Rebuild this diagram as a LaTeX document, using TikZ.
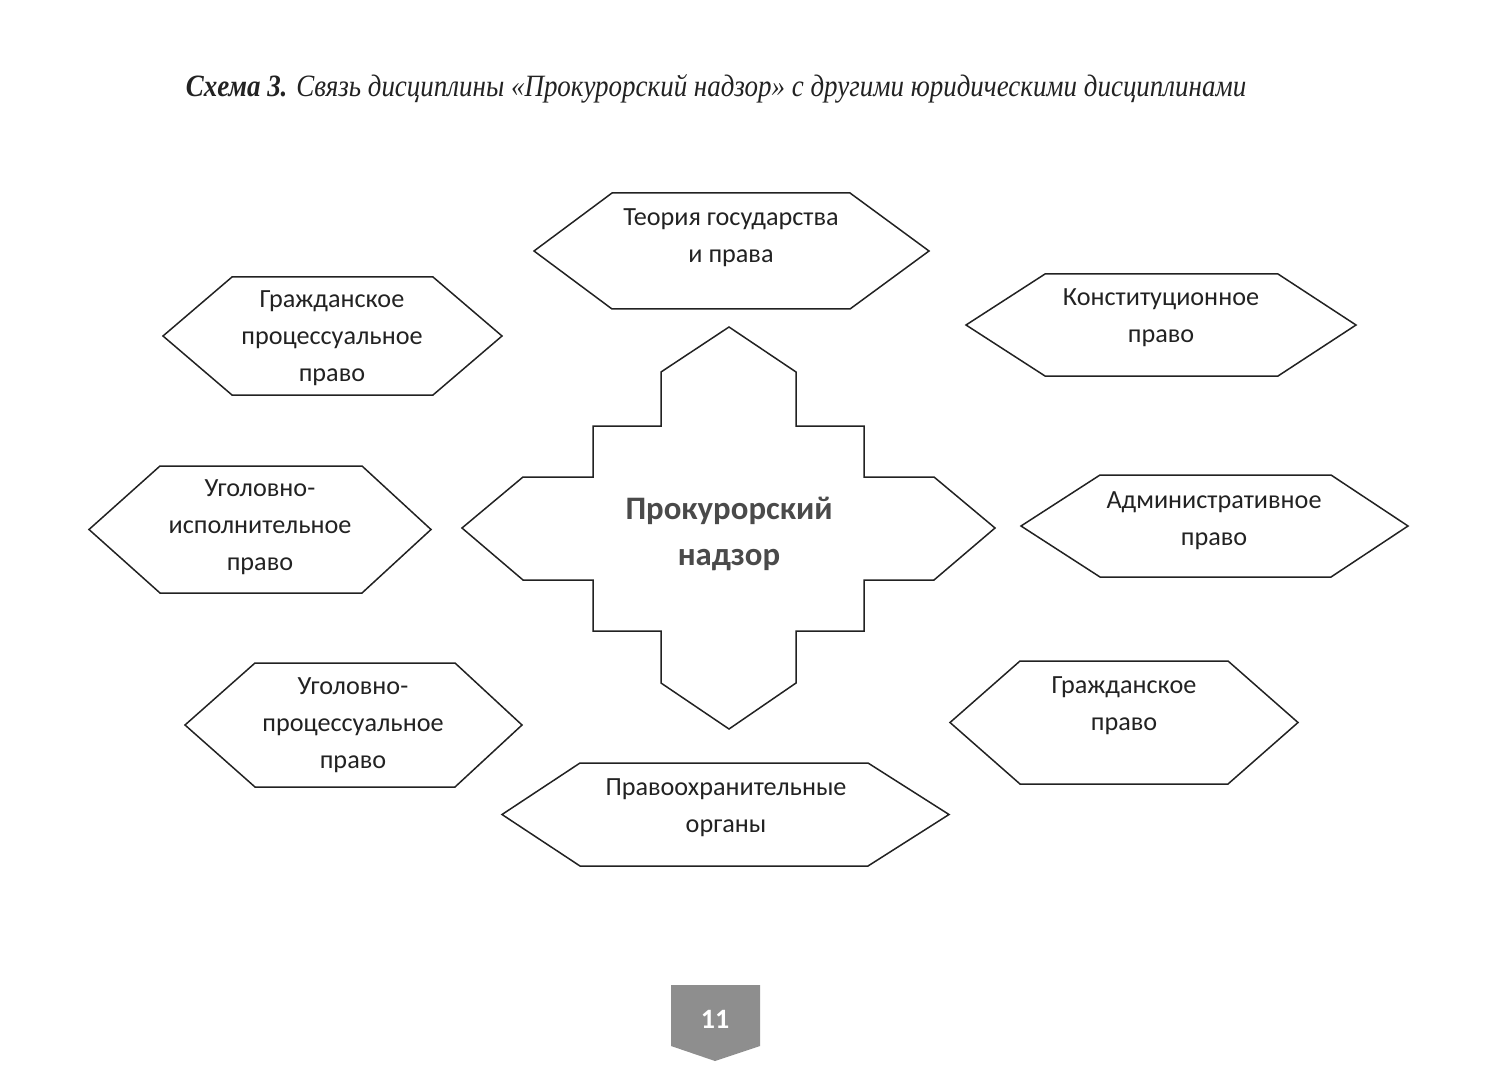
\documentclass[tikz,border=0pt]{standalone}
\usepackage{fontspec}
\setmainfont{Carlito}
\newfontfamily\capfont[FakeStretch=0.87]{Liberation Serif}
\definecolor{inkgrey}{HTML}{222222}
\definecolor{hubgrey}{HTML}{4A4A4A}
\definecolor{badgegrey}{HTML}{8E8E8E}

% hexagon: left tip, inner left, inner right, right tip, top, bottom
\newcommand{\hexa}[6]{%
  \draw[hexline] (#1,{(#5+#6)/2}) -- (#2,#5) -- (#3,#5) -- (#4,{(#5+#6)/2})
    -- (#3,#6) -- (#2,#6) -- cycle;}

\begin{document}
\begin{tikzpicture}[x=0.5pt,y=-0.5pt,
  hexline/.style={draw=inkgrey, line width=0.75pt, line join=miter},
  disc/.style={align=center, text=inkgrey, inner sep=0pt,
    font=\fontsize{13.1}{18.5}\selectfont}]
 \useasboundingbox (0,0) rectangle (1491,1080);

 % caption
 \node (caption) at (716,89) {\capfont\itshape\color{inkgrey}\fontsize{15.5}{18}\selectfont
   \textbf{Схема 3.} Связь дисциплины «Прокурорский надзор» с другими юридическими дисциплинами};

 % outer disciplines
 \hexa{534}{612}{850}{929}{193}{309}
 \node[disc] (theory) at (731,238) {Теория государства\\и права};
 \hexa{163}{232}{433}{502}{277}{395}
 \node[disc] (civproc) at (332,338) {Гражданское\\процессуальное\\право};
 \hexa{966}{1045}{1278}{1356}{274}{376}
 \node[disc] (const) at (1161,318) {Конституционное\\право};
 \hexa{89}{160}{362}{431}{466}{593}
 \node[disc] (penal) at (260,527) {Уголовно-\\исполнительное\\право};
 \hexa{1021}{1100}{1331}{1408}{475}{577}
 \node[disc] (admin) at (1214,521) {Административное\\право};
 \hexa{185}{255}{455}{522}{663}{787}
 \node[disc] (crimproc) at (353,725) {Уголовно-\\процессуальное\\право};
 \hexa{950}{1020}{1228}{1298}{661}{784}
 \node[disc] (civil) at (1124,706) {Гражданское\\право};
 \hexa{502}{580}{868}{949}{763}{866}
 \node[disc] (organs) at (726,808) {Правоохранительные\\органы};

 % central cross
 \draw[hexline] (729,327) -- (796,372) -- (796,426) -- (864,426) -- (864,477)
   -- (934,477) -- (995,528) -- (934,580) -- (864,580) -- (864,631) -- (796,631)
   -- (796,683) -- (729,729) -- (661,683) -- (661,631) -- (593,631) -- (593,580)
   -- (523,580) -- (462,528) -- (523,477) -- (593,477) -- (593,426) -- (661,426)
   -- (661,372) -- cycle;
 \node[align=center, text=hubgrey, font=\bfseries\fontsize{16.4}{23}\selectfont]
   (hub) at (729,534) {Прокурорский\\надзор};

 % page badge
 \fill[badgegrey] (671,985) -- (760,985) -- (760,1046) -- (715,1061) -- (671,1046) -- cycle;
 \node[text=white, font=\bfseries\fontsize{14}{16}\selectfont] (page) at (715,1019) {11};
\end{tikzpicture}
\end{document}
